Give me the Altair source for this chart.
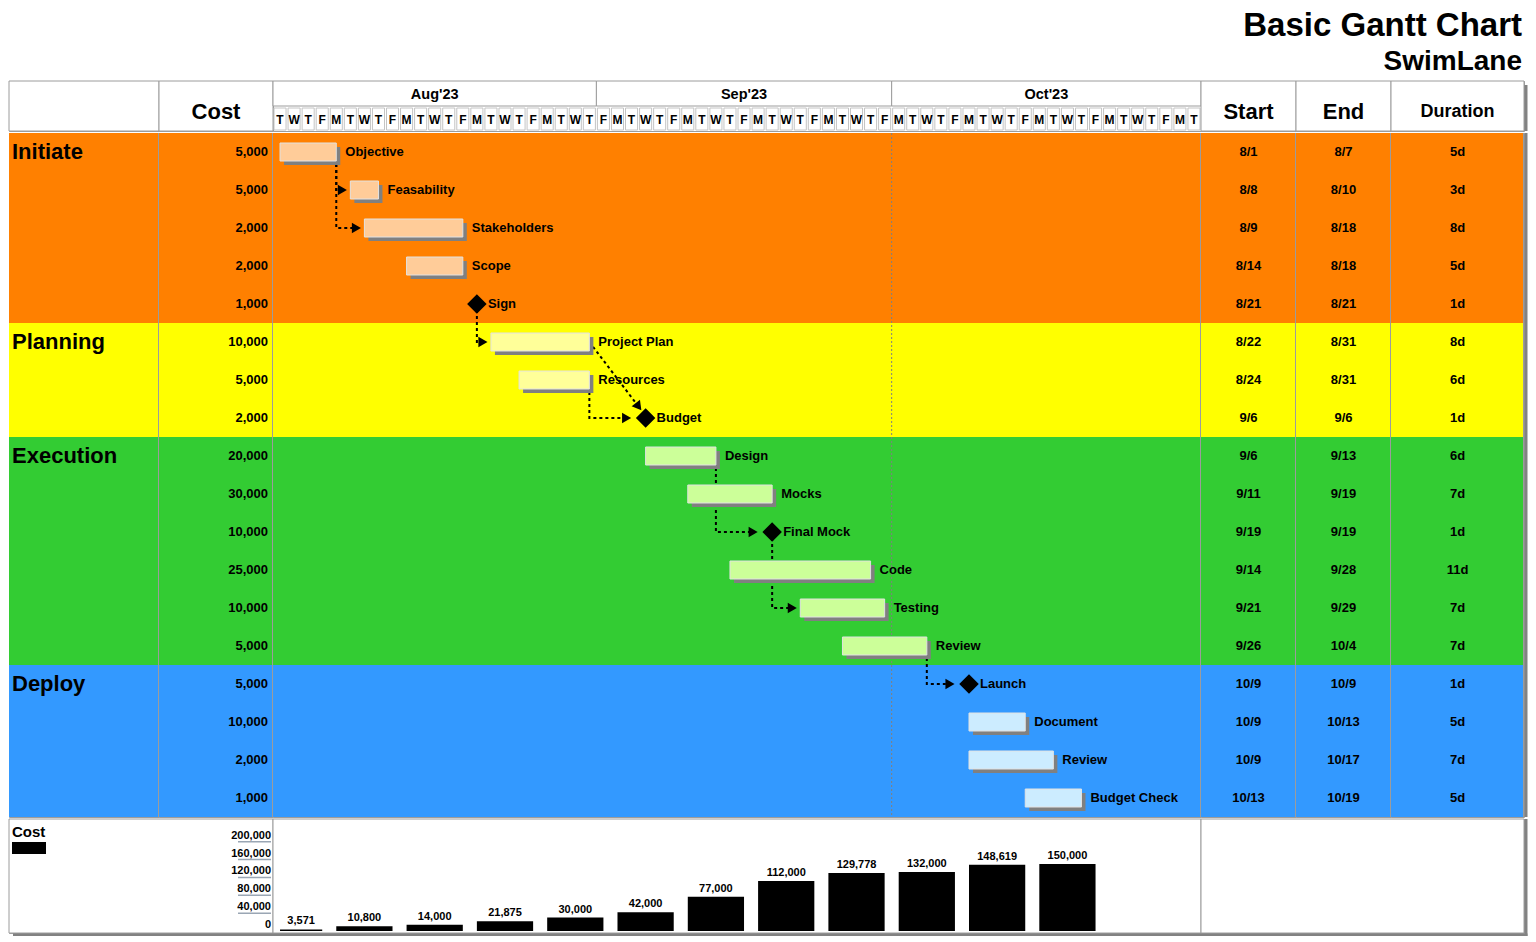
import math

import altair as alt
import pandas as pd

FONT = "Liberation Sans"
NARROW = "Liberation Sans Narrow, Arial Narrow, Liberation Sans"
GRID = "#9c9c9c"
SHADOW = "#828282"

# ---------------------------------------------------------------- data
lanes = ["Initiate", "Planning", "Execution", "Deploy"]
lane_fill = ["#FF8000", "#FFFF00", "#33CC33", "#3399FF"]
bar_fill = ["#FFCC99", "#FFFF99", "#CCFF99", "#CCECFF"]

task_names = ["Objective", "Feasability", "Stakeholders", "Scope", "Sign",
              "Project Plan", "Resources", "Budget",
              "Design", "Mocks", "Final Mock", "Code", "Testing", "Review",
              "Launch", "Document", "Review", "Budget Check"]
task_lane = [0, 0, 0, 0, 0, 1, 1, 1, 2, 2, 2, 2, 2, 2, 3, 3, 3, 3]
task_cost = [5000, 5000, 2000, 2000, 1000, 10000, 5000, 2000, 20000, 30000,
             10000, 25000, 10000, 5000, 5000, 10000, 2000, 1000]
task_start = ["8/1", "8/8", "8/9", "8/14", "8/21", "8/22", "8/24", "9/6", "9/6",
              "9/11", "9/19", "9/14", "9/21", "9/26", "10/9", "10/9", "10/9", "10/13"]
task_end = ["8/7", "8/10", "8/18", "8/18", "8/21", "8/31", "8/31", "9/6", "9/13",
            "9/19", "9/19", "9/28", "9/29", "10/4", "10/9", "10/13", "10/17", "10/19"]
task_duration = ["5d", "3d", "8d", "5d", "1d", "8d", "6d", "1d", "6d", "7d", "1d",
                 "11d", "7d", "7d", "1d", "5d", "7d", "5d"]

# dependencies (row index of predecessor -> successor)
link_from = [0, 0, 4, 5, 6, 8, 10, 13]
link_to = [1, 2, 5, 7, 7, 10, 12, 14]
link_diagonal = [False, False, False, True, False, False, False, False]

# weekly cumulative cost
week_start = ["8/1", "8/7", "8/14", "8/21", "8/28", "9/4", "9/11", "9/18",
              "9/25", "10/2", "10/9", "10/16"]
week_end = ["8/4", "8/11", "8/18", "8/25", "9/1", "9/8", "9/15", "9/22",
            "9/29", "10/6", "10/13", "10/20"]
week_cost = [3571, 10800, 14000, 21875, 30000, 42000, 77000, 112000,
             129778, 132000, 148619, 150000]
cost_ticks = [0, 40000, 80000, 120000, 160000, 200000]

today = "10/2"

# ---------------------------------------------------------------- layout
W_LANE, W_COST, W_TIME, W_START, W_END, W_DUR = 150, 114, 928, 95, 95, 133
H_HEAD, H_BODY, H_FOOT = 50, 684, 114

days = pd.bdate_range("2023-08-01", "2023-10-31")
N_DAYS = len(days)
N_ROWS = len(task_names)
DAY_PX = W_TIME / N_DAYS
ROW_PX = H_BODY / N_ROWS
BAR_HALF = 9 / ROW_PX


def day_idx(md):
    m, d = md.split("/")
    return days.get_loc(pd.Timestamp(2023, int(m), int(d)))


x_time = alt.Scale(domain=[0, N_DAYS], nice=False, zero=False)
y_body = alt.Scale(domain=[0, N_ROWS], reverse=True, nice=False, zero=False)
y_foot = alt.Scale(domain=[-4500, 251000], nice=False, zero=False)

tasks = pd.DataFrame({
    "name": task_names,
    "cost": [f"{c:,}" for c in task_cost],
    "start": task_start,
    "end": task_end,
    "dur": task_duration,
    "fill": [bar_fill[l] for l in task_lane],
})
tasks["mid"] = [r + 0.5 for r in range(N_ROWS)]
tasks["top"] = tasks["mid"] - BAR_HALF
tasks["bot"] = tasks["mid"] + BAR_HALF
tasks["x0"] = [day_idx(s) + 0.5 for s in task_start]
tasks["x1"] = [day_idx(e) + 0.5 for e in task_end]
tasks["milestone"] = [s == e for s, e in zip(task_start, task_end)]
bars = tasks[~tasks["milestone"]]
miles = tasks[tasks["milestone"]]

lane_rows = []
for i, name in enumerate(lanes):
    rows = [r for r, l in enumerate(task_lane) if l == i]
    lane_rows.append({"name": name, "fill": lane_fill[i], "y0": min(rows),
                      "y1": max(rows) + 1, "mid": min(rows) + 0.5})
lane_df = pd.DataFrame(lane_rows)

# dependency paths, in day / row units
path_rows, arrow_rows = [], []
for k, (s, t, diag) in enumerate(zip(link_from, link_to, link_diagonal)):
    sx, sy = tasks.x1[s], tasks.mid[s]
    ty = tasks.mid[t]
    if diag:
        tx, ty = tasks.x0[t] - 0.5, ty - 0.3
        pts = [(sx, sy), (tx, ty)]
        ang = math.degrees(math.atan2((ty - sy) * ROW_PX, (tx - sx) * DAY_PX))
    else:
        gap = 19 if tasks.milestone[t] else 8
        tx = tasks.x0[t] - gap / DAY_PX
        pts = [(sx, sy), (sx, ty), (tx, ty)]
        ang = 0
    for j, (px, py) in enumerate(pts):
        path_rows.append({"link": k, "step": j, "x": px, "y": py})
    arrow_rows.append({"x": tx, "y": ty, "ang": ang})
paths = pd.DataFrame(path_rows)
arrows = pd.DataFrame(arrow_rows)

day_df = pd.DataFrame({
    "i": range(N_DAYS),
    "i1": [i + 1 for i in range(N_DAYS)],
    "c": [i + 0.5 for i in range(N_DAYS)],
    "letter": ["MTWTF"[d.weekday()] for d in days],
})
month_df = pd.DataFrame({
    "label": [days[days.month == m][0].strftime("%b'%y") for m in (8, 9, 10)],
    "m0": [int((days.month < m).sum()) for m in (8, 9, 10)],
    "m1": [int((days.month <= m).sum()) for m in (8, 9, 10)],
})
month_df["mc"] = (month_df.m0 + month_df.m1) / 2

weeks = pd.DataFrame({
    "x0": [day_idx(s) + 0.5 for s in week_start],
    "x1": [day_idx(e) + 0.5 for e in week_end],
    "cost": week_cost,
    "lbl": [f"{c:,}" for c in week_cost],
    "base": 0,
})
weeks["xm"] = (weeks.x0 + weeks.x1) / 2
ticks = pd.DataFrame({"v": cost_ticks, "lbl": [f"{v:,}" for v in cost_ticks]})

one = pd.DataFrame({"t": [""]})


def bold_text(size, **kw):
    return dict(font=FONT, fontWeight="bold", fontSize=size, color="black", **kw)


def frame(width, height):
    return alt.Chart(one).mark_rect(fill="white", stroke=GRID, strokeWidth=1).encode(
        x=alt.value(0), x2=alt.value(width), y=alt.value(0), y2=alt.value(height))


# drop shadow of the whole table, drawn as plain rects so that no stroke
# widens the bounds of a row
def right_shadow(width, y0, y1):
    return alt.Chart(one).mark_rect(color=SHADOW).encode(
        x=alt.value(width + 0.5), x2=alt.value(width + 3.5),
        y=alt.value(y0), y2=alt.value(y1))


def bottom_shadow(height, x0, x1):
    return alt.Chart(one).mark_rect(color=SHADOW).encode(
        y=alt.value(height + 0.5), y2=alt.value(height + 3),
        x=alt.value(x0), x2=alt.value(x1))


# ---------------------------------------------------------------- header
def head_cell(text, width, size, last=False):
    layers = [frame(width, H_HEAD),
              alt.Chart(pd.DataFrame({"t": [text]})).mark_text(
                  **bold_text(size)).encode(
                  x=alt.value(width / 2), y=alt.value(31), text="t:N")]
    if last:
        layers.append(right_shadow(width, 4, H_HEAD))
    return alt.layer(*layers).properties(width=width, height=H_HEAD)


month_cells = alt.Chart(month_df).mark_rect(
    fill="white", stroke=GRID, strokeWidth=1).encode(
    x=alt.X("m0:Q", scale=x_time, axis=None), x2="m1:Q",
    y=alt.value(0), y2=alt.value(25))
month_text = alt.Chart(month_df).mark_text(**bold_text(14.5)).encode(
    x=alt.X("mc:Q", scale=x_time, axis=None), y=alt.value(14), text="label:N")
day_cells = alt.Chart(day_df).mark_rect(
    fill="white", stroke="#c4c4c4", strokeWidth=1, xOffset=1, x2Offset=-1).encode(
    x=alt.X("i:Q", scale=x_time, axis=None), x2="i1:Q",
    y=alt.value(27), y2=alt.value(49))
day_text = alt.Chart(day_df).mark_text(**bold_text(12)).encode(
    x=alt.X("c:Q", scale=x_time, axis=None), y=alt.value(39), text="letter:N")
time_head = alt.layer(month_cells, month_text, day_cells, day_text).properties(
    width=W_TIME, height=H_HEAD)

header = alt.hconcat(
    head_cell("", W_LANE, 22), head_cell("Cost", W_COST, 22), time_head,
    head_cell("Start", W_START, 22), head_cell("End", W_END, 22),
    head_cell("Duration", W_DUR, 18, last=True), spacing=0, bounds="flush")


# ---------------------------------------------------------------- body
def lane_bg(width):
    bg = alt.Chart(lane_df).mark_rect().encode(
        x=alt.value(0), x2=alt.value(width),
        y=alt.Y("y0:Q", scale=y_body, axis=None), y2="y1:Q",
        color=alt.Color("fill:N", scale=None))
    edge = alt.Chart(lane_df).mark_rect(color=GRID).encode(
        x=alt.value(width - 1), x2=alt.value(width),
        y=alt.Y("y0:Q", scale=y_body, axis=None), y2="y1:Q")
    return [bg, edge]


def text_column(field, width, x, align, last=False):
    txt = alt.Chart(tasks).mark_text(**bold_text(13, align=align)).encode(
        x=alt.value(x), y=alt.Y("mid:Q", scale=y_body, axis=None),
        text=f"{field}:N")
    layers = lane_bg(width) + [txt]
    if last:
        layers.append(right_shadow(width, 0, H_BODY))
    return alt.layer(*layers).properties(width=width, height=H_BODY)


lane_col = alt.layer(
    *lane_bg(W_LANE),
    alt.Chart(lane_df).mark_text(**bold_text(22, align="left")).encode(
        x=alt.value(3), y=alt.Y("mid:Q", scale=y_body, axis=None), text="name:N"),
).properties(width=W_LANE, height=H_BODY)

today_rule = alt.Chart(pd.DataFrame({"d": [day_idx(today)]})).mark_rule(
    color="#7f7f7f", strokeDash=[2, 2], strokeWidth=1).encode(
    x=alt.X("d:Q", scale=x_time, axis=None))
link_lines = alt.Chart(paths).mark_line(
    color="black", strokeWidth=2, strokeDash=[3, 3]).encode(
    x=alt.X("x:Q", scale=x_time, axis=None),
    y=alt.Y("y:Q", scale=y_body, axis=None),
    detail="link:N", order="step:Q")
link_heads = alt.Chart(arrows).mark_point(
    shape="triangle-right", filled=True, color="black", opacity=1, size=110).encode(
    x=alt.X("x:Q", scale=x_time, axis=None),
    y=alt.Y("y:Q", scale=y_body, axis=None),
    angle=alt.Angle("ang:Q", scale=None))
shadows = alt.Chart(bars).mark_rect(
    color="#808080", xOffset=4, x2Offset=4, yOffset=4, y2Offset=4).encode(
    x=alt.X("x0:Q", scale=x_time, axis=None), x2="x1:Q",
    y=alt.Y("top:Q", scale=y_body, axis=None), y2="bot:Q")
bar_rects = alt.Chart(bars).mark_rect(stroke="#e2e2e2", strokeWidth=1).encode(
    x=alt.X("x0:Q", scale=x_time, axis=None), x2="x1:Q",
    y=alt.Y("top:Q", scale=y_body, axis=None), y2="bot:Q",
    color=alt.Color("fill:N", scale=None))
diamonds = alt.Chart(miles).mark_point(
    shape="diamond", filled=True, color="black", opacity=1, size=380).encode(
    x=alt.X("x0:Q", scale=x_time, axis=None),
    y=alt.Y("mid:Q", scale=y_body, axis=None))
bar_labels = alt.Chart(bars).mark_text(**bold_text(13, align="left", dx=9)).encode(
    x=alt.X("x1:Q", scale=x_time, axis=None),
    y=alt.Y("mid:Q", scale=y_body, axis=None), text="name:N")
mile_labels = alt.Chart(miles).mark_text(**bold_text(13, align="left", dx=11)).encode(
    x=alt.X("x0:Q", scale=x_time, axis=None),
    y=alt.Y("mid:Q", scale=y_body, axis=None), text="name:N")

time_body = alt.layer(
    *lane_bg(W_TIME), today_rule, link_lines, link_heads, shadows, bar_rects,
    diamonds, bar_labels, mile_labels,
).properties(width=W_TIME, height=H_BODY)

body = alt.hconcat(
    lane_col,
    text_column("cost", W_COST, W_COST - 5, "right"),
    time_body,
    text_column("start", W_START, W_START / 2, "center"),
    text_column("end", W_END, W_END / 2, "center"),
    text_column("dur", W_DUR, W_DUR / 2, "center", last=True),
    spacing=0, bounds="flush")

# ---------------------------------------------------------------- cost footer
W_LEFT = W_LANE + W_COST
W_RIGHT = W_START + W_END + W_DUR
foot_left = alt.layer(
    frame(W_LEFT, H_FOOT),
    bottom_shadow(H_FOOT, 4, W_LEFT),
    alt.Chart(pd.DataFrame({"t": ["Cost"]})).mark_text(
        **bold_text(15, align="left")).encode(
        x=alt.value(3), y=alt.value(13), text="t:N"),
    alt.Chart(one).mark_rect(color="black").encode(
        x=alt.value(3), x2=alt.value(37), y=alt.value(23), y2=alt.value(35)),
    alt.Chart(ticks[ticks.v > 0]).mark_rule(color="#9aa6b4", strokeWidth=1.5).encode(
        x=alt.value(W_LEFT - 35), x2=alt.value(W_LEFT - 2),
        y=alt.Y("v:Q", scale=y_foot, axis=None)),
    alt.Chart(ticks).mark_text(
        font=NARROW, fontWeight="bold", fontSize=11, color="black",
        align="right", baseline="bottom", dy=-1).encode(
        x=alt.value(W_LEFT - 2), y=alt.Y("v:Q", scale=y_foot, axis=None),
        text="lbl:N"),
).properties(width=W_LEFT, height=H_FOOT)

time_foot = alt.layer(
    frame(W_TIME, H_FOOT),
    bottom_shadow(H_FOOT, 0, W_TIME),
    alt.Chart(weeks).mark_rect(color="black").encode(
        x=alt.X("x0:Q", scale=x_time, axis=None), x2="x1:Q",
        y=alt.Y("cost:Q", scale=y_foot, axis=None), y2="base:Q"),
    alt.Chart(weeks).mark_text(
        font=NARROW, fontWeight="bold", fontSize=11, color="black",
        baseline="bottom", dy=-3).encode(
        x=alt.X("xm:Q", scale=x_time, axis=None),
        y=alt.Y("cost:Q", scale=y_foot, axis=None), text="lbl:N"),
).properties(width=W_TIME, height=H_FOOT)

foot_right = alt.layer(
    frame(W_RIGHT, H_FOOT),
    right_shadow(W_RIGHT, 0, H_FOOT + 3),
    bottom_shadow(H_FOOT, 0, W_RIGHT + 3.5),
).properties(width=W_RIGHT, height=H_FOOT)

footer = alt.hconcat(foot_left, time_foot, foot_right, spacing=0, bounds="flush")

chart = alt.vconcat(
    header, body, footer, spacing=0,
    padding={"left": 0, "top": 2, "right": 0, "bottom": 0},
).properties(
    title=alt.TitleParams(
        "Basic Gantt Chart", subtitle="SwimLane", anchor="end",
        font=FONT, fontSize=33, fontWeight="bold", color="black",
        subtitleFont=FONT, subtitleFontSize=28, subtitleFontWeight="bold",
        subtitleColor="black", subtitlePadding=5, offset=4, dx=-6),
).configure_view(stroke=GRID, strokeWidth=1)

chart.save("out.html", embed_options={"renderer": "svg", "actions": False})
